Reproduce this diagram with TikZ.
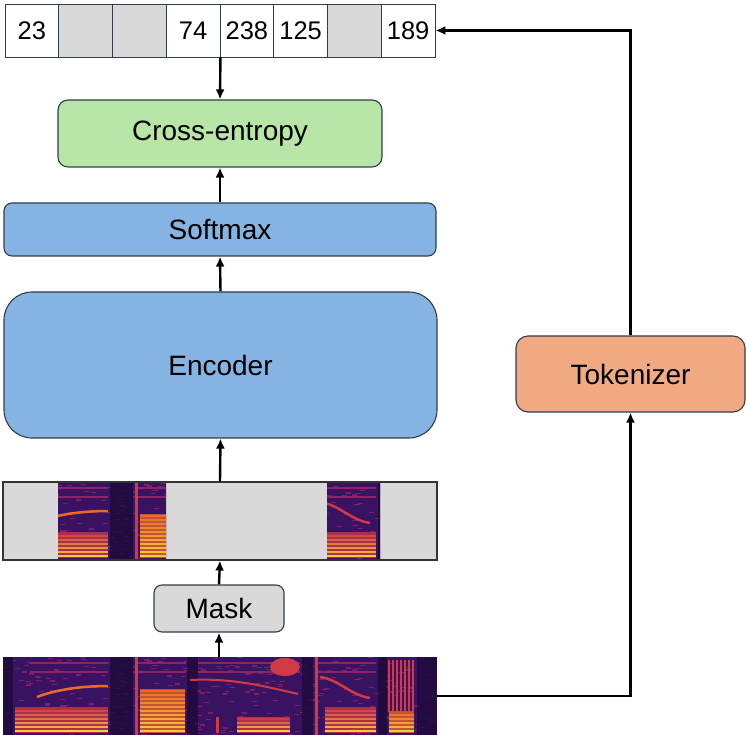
\documentclass[tikz,border=0pt]{standalone}
\usepackage{fontspec}
\setmainfont{Liberation Sans}
\usetikzlibrary{arrows.meta}
\definecolor{edge}{HTML}{2F3E4C}
\definecolor{xentgreen}{HTML}{B8E6A7}
\definecolor{encblue}{HTML}{85B4E3}
\definecolor{tokorange}{HTML}{F2AA84}
\definecolor{maskgray}{HTML}{D9D9D9}
\definecolor{specD}{HTML}{1C0A38}
\definecolor{specP}{HTML}{3A1262}
\definecolor{specM}{HTML}{8E2367}
\definecolor{specR}{HTML}{CF3A45}
\definecolor{specO}{HTML}{EE6A24}
\definecolor{specY}{HTML}{F9C93C}
\tikzset{
	box/.style={draw=edge, line width=1.1pt, rounded corners=#1, inner sep=0pt,
		font=\fontsize{28}{32}\selectfont},
	box/.default=10pt,
	cell/.style={draw=edge, line width=0.9pt, minimum width=53.75pt, minimum height=53pt,
		inner sep=0pt, font=\fontsize{25.5}{28}\selectfont},
	arr/.style={line width=2.4pt, -{Latex[length=10pt,width=9pt]}}
}
% harmonic stripes: x0, x1, top y, top colour
\newcommand{\harm}[4]{%
	\fill[#4!75!specP] (#1,{#3-2}) rectangle (#2,733);
	\foreach \yy in {731,727,...,#3}
	{
		\pgfmathtruncatemacro\p{100*(\yy-#3)/(731-#3)}
		\draw[line width=2.6pt, color=specY!\p!#4] (#1,\yy) -- (#2,\yy);
	}
}
% spectrogram, drawn in the frame of the lower box
\newcommand{\drawspec}{%
	\pgfmathsetseed{7}
	\fill[specP] (3,657) rectangle (437,735);
	\foreach \k in {1,...,360}
	{
		\pgfmathsetmacro\rx{3+430*rnd}
		\pgfmathsetmacro\ry{657+78*rnd}
		\draw[specM, line width=1.2pt, opacity=0.8] (\rx,\ry) -- ++(5,0);
	}
	\foreach \a/\b in {3/13,110/133,187/198,302/313,378/387,417/437}
		\fill[specD, opacity=0.8] (\a,657) rectangle (\b,735);
	\foreach \a/\b in {30/108,138/186,198/300,316/376}
	{
		\draw[specM, line width=2pt] (\a,663) -- (\b,663);
		\draw[specM, line width=1.5pt] (\a,672) -- (\b,672);
	}
	\draw[specR, line width=3pt] (136,657) -- (136,735);
	\draw[specR, line width=3pt] (316,657) -- (316,735);
	\fill[specR] (285,667) ellipse (15 and 9);
	\foreach \xx in {389,393,...,413}
		\draw[specR, line width=2pt] (\xx,660) -- (\xx,712);
	\harm{15}{108}{709}{specR}
	\harm{140}{185}{691}{specO}
	\harm{237}{290}{719}{specR}
	\harm{325}{376}{709}{specR}
	\harm{389}{414}{713}{specO}
	\draw[specR, line width=3pt] (217,717) -- (217,733);
	\draw[specO, line width=2.5pt] (37,697) .. controls (55,690) and (80,686) .. (108,686);
	\draw[specR, line width=2pt] (190,680) .. controls (230,678) and (260,685) .. (298,694);
	\draw[specR, line width=2.5pt] (320,677) .. controls (340,680) and (350,695) .. (370,698);
}
\begin{document}
\begin{tikzpicture}[x=1pt,y=-1pt]
\useasboundingbox (0,0) rectangle (747,735);

% token targets
\foreach[count=\i] \v/\c in {23/white,{}/maskgray,{}/maskgray,74/white,238/white,125/white,{}/maskgray,189/white}
{
	\node[cell, fill=\c] (cell\i) at ({5+53.75*(\i-0.5)},30.5) {\v};
}

\node[box, fill=xentgreen, minimum width=324pt, minimum height=67pt] (xent) at (220,133.5) {Cross-entropy};
\node[box=8pt, fill=encblue, minimum width=432pt, minimum height=53pt] (soft) at (220,229.5) {Softmax};
\node[box=28pt, fill=encblue, minimum width=433pt, minimum height=146pt] (enc) at (220.5,365) {Encoder};

% masked spectrogram
\fill[maskgray] (3,482) rectangle (437,560);
\begin{scope}
	\clip (58,482) rectangle (166,560) (327,482) rectangle (380,560);
	\begin{scope}[shift={(0,-175)}]
		\drawspec
	\end{scope}
\end{scope}
\node[draw=black!80, line width=1.1pt, minimum width=434pt, minimum height=78pt, inner sep=0pt] (masked) at (220,521) {};

\node[box=8pt, fill=maskgray, minimum width=130pt, minimum height=47pt] (mask) at (219,608.5) {Mask};

% input spectrogram
\begin{scope}
	\clip (3,657) rectangle (437,735);
	\drawspec
\end{scope}
\node[minimum width=434pt, minimum height=78pt, inner sep=0pt] (spec) at (220,696) {};

\node[box=12pt, fill=tokorange, minimum width=229pt, minimum height=76pt] (tokenizer) at (630.5,374) {Tokenizer};

\draw[arr] (cell4.south east) -- (xent.north);
\draw[arr] (soft.north) -- (xent.south);
\draw[arr] (enc.north) -- (soft.south);
\draw[arr] (masked.north) -- (enc.south);
\draw[arr] (mask.north) -- (masked.south);
\draw[arr] (spec.north -| mask.south) -- (mask.south);
\draw[arr] (spec.east) -| (tokenizer.south);
\draw[arr] (tokenizer.north) |- (cell8.east);
\end{tikzpicture}
\end{document}
